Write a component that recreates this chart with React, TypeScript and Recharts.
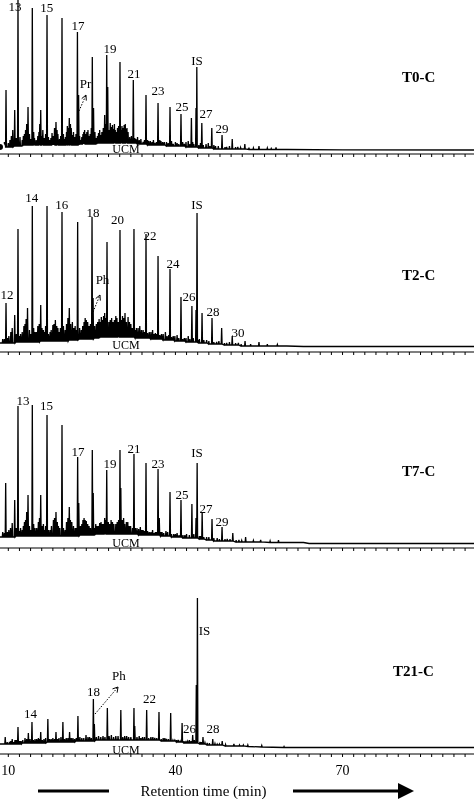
import React from 'react'
import { ComposedChart, Line, XAxis, YAxis, ReferenceDot, ReferenceLine } from 'recharts'

// retention time window shown on every trace (min)
const RT_MIN = 8.51
const RT_MAX = 93.6
const TICK_LABELS = [10, 40, 70]
const AXIS_TICKS: number[] = []
for (let t = 10; t <= 92; t += 2) AXIS_TICKS.push(t)

// peaks: [retention time (min), signal at peak foot, signal at apex] (arbitrary units)
// minor: the small unresolved peaks riding on the hump, same layout
// base:  [retention time (min), signal] where the trace runs flat
const t0Peaks = [
  [9.0, 7, 10], [9.59, 7, 64], [10.3, 7, 14], [10.8, 7, 24], [11.15, 8, 44], [11.74, 8, 154],
  [12.1, 8, 17], [12.9, 9, 20], [13.3, 9, 30], [13.54, 9, 47], [14.31, 9, 146], [14.7, 9, 16],
  [15.3, 9, 18], [15.65, 9, 30], [15.82, 9, 44], [16.2, 9, 24], [16.95, 9, 139], [17.4, 9, 14],
  [18.0, 9, 18], [18.3, 9, 26], [18.56, 9, 32], [18.9, 9, 20], [19.64, 9, 136], [20.0, 9, 15],
  [20.6, 9, 28], [20.95, 9, 36], [21.3, 9, 26], [21.7, 9, 22], [22.41, 9, 122], [22.62, 9, 59],
  [23.0, 10, 14], [23.4, 10, 20], [23.7, 10, 24], [24.1, 10, 22], [24.5, 10, 18], [25.08, 10, 97],
  [25.3, 10, 46], [25.8, 10, 16], [26.2, 11, 21], [26.6, 11, 19], [27.3, 11, 39], [27.67, 11, 99],
  [27.85, 11, 67], [28.3, 11, 31], [28.7, 11, 29], [29.2, 11, 24], [29.6, 11, 26], [30.05, 11, 92],
  [30.4, 11, 28], [30.8, 11, 29], [31.3, 11, 26], [31.8, 11, 17], [32.44, 11, 74], [32.9, 11, 15],
  [33.5, 10, 14], [34.2, 10, 12], [34.72, 10, 59], [35.2, 9, 13], [35.8, 9, 12], [36.3, 9, 11],
  [36.88, 9, 51], [37.4, 9, 13], [38.0, 9, 12], [39.03, 8, 47], [39.6, 8, 10], [40.3, 8, 11],
  [41.0, 8, 40], [41.6, 8, 10], [42.3, 7, 13], [42.87, 7, 36], [43.3, 7, 10], [43.7, 7, 46],
  [43.84, 7, 87], [44.2, 6, 9], [44.74, 6, 31], [45.5, 6, 10], [46.53, 6, 26], [47.2, 5, 8],
  [48.37, 5, 19], [49.2, 5, 7], [50.2, 5, 15], [51.2, 5, 7], [52.46, 5, 10], [55.0, 4.5, 8],
  [58.06, 4.5, 6.5],
]
const t0Minor = [
  [9.3, 7, 12], [10.0, 7, 11], [10.55, 7, 18], [11.45, 8, 16], [12.5, 8, 14], [12.7, 9, 18],
  [13.1, 9, 24], [13.8, 9, 20], [14.05, 9, 15], [14.55, 9, 22], [15.0, 9, 14], [15.5, 9, 22],
  [16.05, 9, 18], [16.45, 9, 16], [16.7, 9, 20], [17.2, 9, 17], [17.65, 9, 16], [17.85, 9, 21],
  [18.15, 9, 18], [18.75, 9, 24], [19.2, 9, 15], [19.4, 9, 18], [19.9, 9, 20], [20.25, 9, 17],
  [20.45, 9, 22], [20.8, 9, 26], [21.15, 9, 30], [21.5, 9, 19], [21.9, 9, 17], [22.15, 9, 20],
  [22.8, 10, 18], [23.2, 10, 17], [23.55, 10, 22], [23.9, 10, 20], [24.3, 10, 24], [24.7, 10, 20],
  [24.9, 10, 26], [25.55, 10, 22], [26.0, 11, 18], [26.4, 11, 24], [26.8, 11, 22], [27.05, 11, 26],
  [27.5, 11, 30], [28.05, 11, 24], [28.5, 11, 27], [28.9, 11, 25], [29.05, 11, 30], [29.4, 11, 22],
  [29.8, 11, 28], [30.25, 11, 24], [30.6, 11, 26], [31.0, 11, 30], [31.15, 11, 25], [31.5, 11, 22],
  [32.1, 11, 18], [32.7, 11, 16], [33.2, 10, 17], [33.8, 10, 15], [34.45, 10, 14], [35.0, 9, 14],
  [35.5, 9, 13], [36.05, 9, 14], [36.6, 9, 12], [37.2, 9, 14], [37.7, 9, 12], [38.4, 8, 12],
  [38.7, 8, 11], [39.3, 8, 13], [40.0, 8, 12], [40.6, 8, 10], [41.3, 8, 12], [41.9, 7, 12],
  [42.6, 7, 10], [43.1, 7, 12], [44.5, 6, 11], [45.0, 6, 9], [45.9, 6, 11], [46.2, 6, 8],
  [46.9, 5, 9], [47.7, 5, 8], [48.9, 5, 7], [49.7, 5, 8], [50.8, 5, 7], [51.7, 5, 6.5],
  [53.2, 4.5, 6.5], [54.0, 4.5, 6], [56.5, 4.5, 6], [57.2, 4.5, 5.5],
]
const t0Base = [[8.51, 7], [60, 4.5], [70, 4.2], [93.6, 4]]

const t2Peaks = [
  [9.0, 9, 13], [9.59, 9, 49], [10.1, 9, 16], [10.7, 9, 24], [11.15, 9, 37], [11.74, 10, 123],
  [12.2, 10, 18], [12.8, 10, 26], [13.2, 10, 33], [13.45, 10, 44], [14.31, 10, 146], [14.8, 10, 20],
  [15.3, 10, 26], [15.82, 11, 47], [16.3, 11, 22], [16.95, 11, 146], [17.5, 11, 20], [18.0, 11, 27],
  [18.45, 11, 32], [18.9, 11, 24], [19.64, 11, 140], [20.2, 11, 22], [20.95, 12, 44], [21.5, 12, 30],
  [22.0, 12, 26], [22.45, 12, 130], [23.1, 13, 22], [23.6, 13, 30], [24.0, 13, 32], [24.5, 13, 26],
  [25.03, 13, 135], [25.22, 13, 54], [25.8, 14, 28], [26.3, 14, 33], [26.7, 15, 35], [27.3, 15, 39],
  [27.72, 15, 110], [28.3, 15, 32], [28.8, 15, 30], [29.3, 15, 36], [29.7, 15, 30], [30.05, 15, 122],
  [30.5, 15, 36], [30.95, 15, 39], [31.5, 15, 35], [32.0, 15, 28], [32.56, 15, 123], [33.0, 14, 24],
  [33.6, 14, 26], [34.2, 14, 22], [34.72, 14, 118], [35.3, 14, 20], [35.9, 13, 22], [36.4, 13, 19],
  [36.88, 13, 96], [37.5, 13, 18], [38.2, 12, 20], [39.03, 12, 83], [39.6, 12, 16], [40.3, 11, 17],
  [41.0, 11, 55], [41.6, 11, 14], [42.3, 10, 16], [42.96, 10, 46], [43.7, 10, 42], [43.88, 10, 139],
  [44.3, 9, 13], [44.78, 9, 39], [45.6, 9, 12], [46.57, 8, 34], [47.4, 8, 10], [48.3, 8, 24],
  [49.2, 7, 9], [50.2, 7, 16], [51.3, 7, 9], [52.5, 6, 11], [55.0, 6, 10], [58.3, 6, 7.5],
]
const t2Minor = [
  [9.3, 9, 13], [9.9, 9, 14], [10.45, 9, 20], [11.45, 10, 18], [12.0, 10, 16], [12.5, 10, 20],
  [13.0, 10, 28], [13.8, 10, 22], [14.05, 10, 18], [14.55, 10, 24], [15.05, 10, 20], [15.55, 10, 28],
  [16.05, 11, 24], [16.5, 11, 20], [16.7, 11, 26], [17.2, 11, 18], [17.7, 11, 22], [18.2, 11, 28],
  [18.7, 11, 26], [19.1, 11, 20], [19.35, 11, 24], [19.9, 11, 26], [20.45, 11, 28], [20.7, 11, 34],
  [21.2, 12, 28], [21.75, 12, 24], [22.2, 12, 22], [22.8, 13, 24], [23.35, 13, 26], [23.8, 13, 34],
  [24.25, 13, 30], [24.75, 13, 28], [25.5, 14, 26], [26.05, 14, 30], [26.5, 15, 30], [26.95, 15, 32],
  [27.1, 15, 36], [27.5, 15, 34], [28.05, 15, 30], [28.55, 15, 34], [29.05, 15, 32], [29.5, 15, 34],
  [29.85, 15, 30], [30.3, 15, 32], [30.7, 15, 34], [31.2, 15, 30], [31.75, 15, 30], [32.25, 15, 24],
  [32.8, 14, 22], [33.3, 14, 24], [33.9, 14, 22], [34.45, 14, 20], [35.0, 14, 19], [35.6, 13, 20],
  [36.15, 13, 18], [36.65, 13, 18], [37.2, 13, 17], [37.8, 12, 18], [38.5, 12, 16], [38.8, 12, 17],
  [39.3, 12, 15], [39.9, 11, 16], [40.6, 11, 14], [41.3, 11, 13], [41.9, 10, 14], [42.6, 10, 13],
  [43.2, 10, 14], [44.1, 9, 12], [45.1, 9, 12], [46.0, 8, 11], [46.9, 8, 10], [47.8, 8, 11],
  [48.8, 7, 9], [49.7, 7, 10], [50.8, 7, 9], [51.8, 6, 8], [53.5, 6, 8], [56.5, 6, 8],
]
const t2Base = [[8.51, 9], [60, 6], [63, 5.5], [93.6, 5.5]]

const t7Peaks = [
  [9.0, 11, 16], [9.53, 11, 65], [10.1, 11, 18], [10.7, 11, 25], [11.15, 11, 48], [11.74, 12, 142],
  [12.2, 12, 20], [12.9, 12, 26], [13.3, 12, 36], [13.54, 12, 53], [14.31, 12, 143], [14.8, 12, 20],
  [15.4, 12, 26], [15.82, 12, 53], [16.3, 12, 24], [16.95, 12, 133], [17.5, 12, 18], [18.1, 12, 28],
  [18.56, 12, 36], [19.0, 12, 22], [19.64, 12, 123], [20.2, 12, 18], [20.7, 12, 30], [20.95, 12, 41],
  [21.4, 12, 26], [22.0, 12, 20], [22.45, 12, 91], [22.65, 12, 45], [23.2, 13, 24], [23.6, 13, 30],
  [24.0, 13, 27], [24.5, 13, 22], [25.08, 13, 98], [25.25, 13, 55], [25.9, 14, 22], [26.4, 14, 25],
  [26.9, 14, 24], [27.3, 14, 30], [27.67, 14, 78], [28.2, 14, 24], [28.7, 14, 26], [29.3, 14, 24],
  [29.8, 14, 28], [30.05, 14, 98], [30.2, 14, 60], [30.7, 14, 30], [31.2, 14, 26], [31.7, 14, 22],
  [32.56, 14, 94], [33.1, 14, 20], [33.7, 13, 21], [34.2, 13, 18], [34.72, 13, 85], [35.3, 13, 16],
  [35.9, 13, 18], [36.4, 13, 16], [36.88, 13, 79], [37.1, 13, 30], [37.6, 12, 16], [38.3, 12, 17],
  [39.03, 12, 56], [39.7, 11, 14], [40.3, 11, 15], [41.0, 11, 48], [41.7, 10, 13], [42.96, 10, 44],
  [43.7, 10, 30], [43.9, 10, 85], [44.3, 9, 12], [44.8, 9, 36], [45.6, 8, 11], [46.57, 8, 29],
  [47.5, 7, 10], [48.37, 7, 21], [49.3, 7, 9], [50.3, 7, 15], [51.4, 6, 8], [52.6, 6, 11],
  [55.3, 6, 8], [58.5, 5.5, 8],
]
const t7Minor = [
  [9.3, 11, 15], [9.85, 11, 16], [10.4, 11, 20], [11.45, 12, 20], [11.95, 12, 17], [12.5, 12, 18],
  [12.7, 12, 22], [13.1, 12, 28], [13.8, 12, 22], [14.05, 12, 18], [14.55, 12, 24], [15.1, 12, 20],
  [15.6, 12, 30], [16.05, 12, 22], [16.5, 12, 18], [16.7, 12, 22], [17.2, 12, 18], [17.75, 12, 22],
  [18.3, 12, 30], [18.8, 12, 26], [19.25, 12, 20], [19.9, 12, 20], [20.45, 12, 26], [21.15, 12, 28],
  [21.7, 12, 22], [22.2, 12, 20], [22.95, 13, 22], [23.4, 13, 28], [23.8, 13, 28], [24.25, 13, 24],
  [24.75, 13, 20], [25.5, 13, 20], [25.7, 14, 24], [26.15, 14, 22], [26.65, 14, 26], [27.1, 14, 24],
  [27.45, 14, 28], [27.95, 14, 26], [28.45, 14, 28], [28.95, 14, 24], [29.55, 14, 26], [30.45, 14, 28],
  [30.9, 14, 24], [31.45, 14, 26], [31.95, 14, 22], [32.3, 14, 20], [32.8, 14, 20], [33.4, 13, 19],
  [33.95, 13, 18], [34.45, 13, 17], [35.0, 13, 17], [35.6, 13, 16], [36.15, 13, 15], [36.6, 13, 16],
  [37.35, 12, 16], [37.9, 12, 15], [38.6, 12, 16], [39.3, 11, 14], [40.0, 11, 14], [40.65, 11, 13],
  [41.35, 10, 13], [42.0, 10, 14], [42.5, 10, 13], [43.3, 10, 14], [44.55, 9, 12], [45.1, 9, 11],
  [46.0, 8, 11], [46.9, 7, 10], [47.9, 7, 9], [48.9, 7, 9], [49.8, 7, 9], [50.9, 6, 8],
  [51.9, 6, 7.5], [54.0, 6, 7.5], [57.0, 5.5, 7],
]
const t7Base = [[8.51, 11], [60, 5.5], [63, 5.5], [64, 4.5], [93.6, 4.5]]

const t21Peaks = [
  [9.45, 10, 17], [10.2, 10, 12], [10.7, 10, 15], [11.2, 10, 14], [11.74, 10, 27], [12.3, 10, 13],
  [13.0, 11, 16], [13.6, 11, 21], [14.25, 11, 32], [14.8, 11, 15], [15.4, 11, 16], [15.82, 11, 22],
  [16.4, 11, 15], [17.1, 12, 35], [17.7, 12, 15], [18.56, 12, 22], [19.1, 12, 16], [19.8, 12, 32],
  [20.4, 12, 16], [21.0, 12, 22], [21.6, 12, 16], [22.5, 13, 38], [23.2, 13, 16], [23.95, 13, 19],
  [24.6, 13, 17], [25.27, 13, 55], [25.45, 13, 30], [26.2, 14, 18], [27.0, 14, 18], [27.78, 14, 46],
  [28.5, 14, 19], [29.3, 14, 18], [30.2, 14, 44], [30.9, 14, 18], [31.6, 14, 17], [32.56, 14, 46],
  [32.7, 14, 28], [33.5, 14, 18], [34.1, 14, 17], [34.84, 14, 44], [35.6, 14, 17], [36.3, 14, 16],
  [37.05, 14, 42], [37.8, 13, 16], [38.4, 13, 15], [39.15, 13, 41], [39.9, 13, 14], [40.5, 12, 14],
  [41.2, 12, 31], [41.9, 11, 13], [42.5, 11, 14], [43.1, 11, 19], [43.75, 11, 69], [43.95, 11, 156],
  [44.4, 10, 12], [44.95, 10, 17], [45.7, 9, 11], [46.7, 9, 15], [47.5, 9, 10], [48.4, 9, 13],
  [50.5, 8, 10], [53.0, 7.5, 9], [55.5, 7, 8.5], [59.5, 6.5, 7.5],
]
const t21Minor = [
  [9.8, 10, 12], [10.45, 10, 13], [10.95, 10, 12], [11.45, 10, 14], [12.05, 10, 13], [12.6, 11, 14],
  [13.3, 11, 15], [13.9, 11, 15], [14.5, 11, 14], [15.1, 11, 15], [15.6, 11, 15], [16.1, 11, 14],
  [16.7, 11, 16], [17.4, 12, 15], [18.0, 12, 16], [18.3, 12, 15], [18.85, 12, 15], [19.45, 12, 17],
  [20.1, 12, 15], [20.7, 12, 16], [21.3, 12, 16], [21.9, 12, 15], [22.2, 13, 16], [22.85, 13, 17],
  [23.55, 13, 16], [24.3, 13, 17], [24.9, 13, 16], [25.8, 14, 17], [26.6, 14, 17], [27.35, 14, 17],
  [28.1, 14, 18], [28.9, 14, 17], [29.7, 14, 18], [30.55, 14, 17], [31.25, 14, 18], [32.0, 14, 17],
  [33.1, 14, 17], [33.8, 14, 16], [34.45, 14, 17], [35.2, 14, 16], [35.95, 14, 17], [36.65, 14, 16],
  [37.45, 13, 15], [38.1, 13, 16], [38.75, 13, 15], [39.55, 13, 14], [40.2, 12, 14], [40.85, 12, 13],
  [41.55, 11, 13], [42.2, 11, 12.5], [42.8, 11, 13], [43.4, 11, 14], [44.65, 10, 12], [45.3, 10, 11.5],
  [46.1, 9, 11], [47.1, 9, 10.5], [47.9, 9, 10], [49.0, 8, 9.5], [51.5, 8, 9], [52.2, 8, 9],
]
const t21Base = [[8.51, 10], [62, 6.5], [93.6, 6.5]]

// peak annotations: [text, retention time, signal level of the text centre]
const t0Labels: [string, number, number][] = [
  ['13', 11.2, 148], ['15', 16.89, 147], ['17', 22.51, 128.5], ['Pr', 23.86, 71], ['19', 28.26, 106],
  ['21', 32.57, 80.5], ['23', 36.88, 63.5], ['25', 41.19, 48], ['IS', 43.88, 94], ['27', 45.49, 41],
  ['29', 48.37, 26], ['UCM', 31.13, 5.5],
]
const t2Labels: [string, number, number][] = [
  ['12', 9.77, 58], ['14', 14.2, 155], ['16', 19.59, 148], ['18', 25.21, 139.5], ['Ph', 26.91, 73],
  ['20', 29.6, 133], ['22', 35.44, 117], ['24', 39.57, 89], ['IS', 43.88, 148], ['26', 42.44, 56],
  ['28', 46.75, 41], ['30', 51.24, 20], ['UCM', 31.13, 7],
]
const t7Labels: [string, number, number][] = [
  ['13', 12.64, 148], ['15', 16.86, 143], ['17', 22.51, 97], ['19', 28.26, 85], ['21', 32.57, 100],
  ['23', 36.88, 85], ['25', 41.19, 54], ['IS', 43.88, 96], ['27', 45.49, 40], ['29', 48.37, 27],
  ['UCM', 31.13, 5],
]
const t21Labels: [string, number, number][] = [
  ['14', 13.99, 40.5], ['18', 25.3, 62.5], ['Ph', 29.87, 79], ['22', 35.35, 56], ['26', 42.53, 26],
  ['28', 46.75, 26], ['IS', 45.22, 124], ['UCM', 31.13, 4],
]

// dotted pointer from the isoprenoid peak to its name: from, tip, two head legs
const t0Pointer = [[22.69, 43], [23.95, 59], [24.0, 53.4], [23.18, 55.4]]
const t2Pointer = [[25.21, 40], [26.46, 57], [26.52, 51.4], [25.69, 53.4]]
const t21Pointer = [[25.57, 40], [29.7, 67], [29.53, 61.3], [28.71, 65.1]]

const SERIF = '"Liberation Serif", "Times New Roman", serif'

function buildTrace(peaks: number[][], minor: number[][], base: number[][]) {
  const pts = base.map(([t, v]) => ({ t, v }))
  peaks.forEach(([t, foot, apex]) => {
    pts.push({ t: t - 0.08, v: foot }, { t, v: apex }, { t: t + 0.08, v: foot })
  })
  minor.forEach(([t, foot, apex]) => {
    pts.push({ t: t - 0.07, v: foot }, { t, v: apex }, { t: t + 0.07, v: foot })
  })
  return pts.sort((a, b) => a.t - b.t)
}

type PanelProps = {
  peaks: number[][]
  minor: number[][]
  base: number[][]
  labels: [string, number, number][]
  pointer?: number[][]
  top: number
  plotH: number
  showTickLabels?: boolean
}

function Panel({ peaks, minor, base, labels, pointer, top, plotH, showTickLabels }: PanelProps) {
  const data = buildTrace(peaks, minor, base)
  const axisH = showTickLabels ? 26 : 12
  return (
    <div style={{ position: 'absolute', left: 0, top }}>
      <ComposedChart width={474} height={plotH + axisH} data={data} margin={{ top: 0, right: 0, left: 0, bottom: 0 }}>
        <XAxis
          dataKey="t"
          type="number"
          domain={[RT_MIN, RT_MAX]}
          ticks={AXIS_TICKS}
          allowDataOverflow
          height={axisH}
          tickSize={3}
          tickMargin={8}
          interval={0}
          stroke="#000"
          tickLine={{ stroke: '#000' }}
          axisLine={{ stroke: '#000', strokeWidth: 1.2 }}
          tick={{ fill: '#000', fontSize: 14, fontFamily: SERIF }}
          tickFormatter={(v: number) => (showTickLabels && TICK_LABELS.includes(v) ? String(v) : '')}
        />
        <YAxis hide type="number" domain={[0, plotH]} allowDataOverflow />
        <Line
          dataKey="v"
          type="linear"
          stroke="#000"
          strokeWidth={1.3}
          dot={false}
          isAnimationActive={false}
        />
        {pointer && (
          <>
            <ReferenceLine
              segment={[{ x: pointer[0][0], y: pointer[0][1] }, { x: pointer[1][0], y: pointer[1][1] }]}
              stroke="#000"
              strokeDasharray="1.5 1.5"
              ifOverflow="visible"
            />
            <ReferenceLine
              segment={[{ x: pointer[2][0], y: pointer[2][1] }, { x: pointer[1][0], y: pointer[1][1] }]}
              stroke="#000"
              ifOverflow="visible"
            />
            <ReferenceLine
              segment={[{ x: pointer[3][0], y: pointer[3][1] }, { x: pointer[1][0], y: pointer[1][1] }]}
              stroke="#000"
              ifOverflow="visible"
            />
          </>
        )}
        {labels.map(([txt, t, v]) => (
          <ReferenceDot
            key={txt + t}
            x={t}
            y={v}
            r={1}
            ifOverflow="visible"
            shape={(p: any) => (
              <text
                x={p.cx}
                y={p.cy}
                textAnchor="middle"
                dominantBaseline="central"
                fontFamily={SERIF}
                fontSize={txt === 'UCM' ? 12 : 13}
                fill="#000"
              >
                {txt}
              </text>
            )}
          />
        ))}
      </ComposedChart>
    </div>
  )
}

export default function App() {
  return (
    <div
      style={{
        position: 'absolute',
        left: 0,
        top: 0,
        width: 474,
        height: 799,
        overflow: 'hidden',
        background: '#fff',
        filter: 'grayscale(1)',
      }}
    >
      <Panel peaks={t0Peaks} minor={t0Minor} base={t0Base} labels={t0Labels} pointer={t0Pointer} top={0} plotH={154} />
      <Panel peaks={t2Peaks} minor={t2Minor} base={t2Base} labels={t2Labels} pointer={t2Pointer} top={160} plotH={192} />
      <Panel peaks={t7Peaks} minor={t7Minor} base={t7Base} labels={t7Labels} top={356} plotH={192} />
      <Panel
        peaks={t21Peaks}
        minor={t21Minor}
        base={t21Base}
        labels={t21Labels}
        pointer={t21Pointer}
        top={560}
        plotH={194}
        showTickLabels
      />
      <svg width={474} height={799} style={{ position: 'absolute', left: 0, top: 0, pointerEvents: 'none' }}>
        <g fontFamily={SERIF} fontWeight="bold" fontSize={15} fill="#000">
          <text x={402} y={82}>T0-C</text>
          <text x={402} y={280}>T2-C</text>
          <text x={402} y={476}>T7-C</text>
          <text x={393} y={675.5}>T21-C</text>
        </g>
        <line x1={38} y1={791} x2={109} y2={791} stroke="#000" strokeWidth={3} />
        <text x={203.5} y={796} textAnchor="middle" fontFamily={SERIF} fontSize={15} fill="#000">
          Retention time (min)
        </text>
        <line x1={293} y1={791} x2={400} y2={791} stroke="#000" strokeWidth={3} />
        <polygon points="398,783 414,791 398,799" fill="#000" />
      </svg>
    </div>
  )
}
